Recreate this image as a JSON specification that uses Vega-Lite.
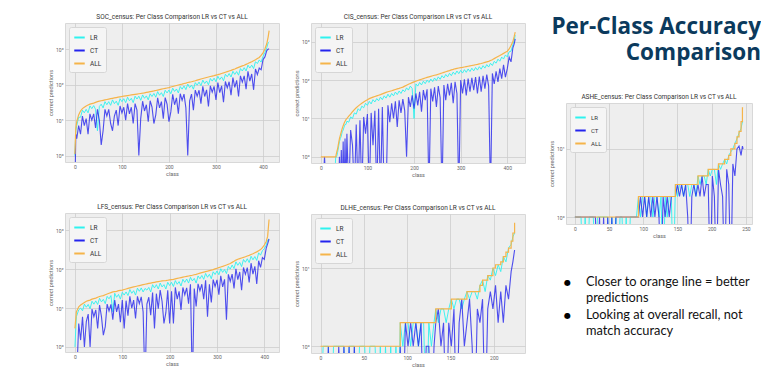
{
"$schema": "https://vega.github.io/schema/vega-lite/v6.json",
"background": "white",
"padding": {"left": 48, "top": 13, "right": 0, "bottom": 0},
"config": {
  "font": "Roboto",
  "view": {"stroke": null},
  "axis": {"labelFontSize": 5, "labelColor": "#666666", "titleFontSize": 5.5, "titleColor": "#666666", "titleFontWeight": "normal", "gridColor": "#cdcdcd", "gridWidth": 0.8, "domain": false, "ticks": false, "labelPadding": 2, "titlePadding": 2, "labelFont": "Roboto", "titleFont": "Roboto"},
  "title": {"fontSize": 6.5, "fontWeight": "normal", "color": "#333333", "offset": 3, "font": "Roboto"},
  "legend": {"symbolType": "stroke", "symbolStrokeWidth": 2, "symbolSize": 110, "labelFontSize": 6.5, "labelColor": "#333333", "labelFont": "Roboto", "fillColor": "#f5f5f5", "strokeColor": "#d6d6d6", "padding": 4, "rowPadding": 2, "cornerRadius": 2, "orient": "top-left", "offset": 4, "title": null}
},
"datasets": {
  "soc": [
    {"x":0,"ALL":1.1,"LR":1,"CT":0.1},{"x":2,"ALL":6,"LR":5,"CT":4},{"x":4,"ALL":9,"LR":7,"CT":3},{"x":8,"ALL":14,"LR":12,"CT":7},{"x":12,"ALL":18,"LR":12,"CT":4},{"x":16,"ALL":21,"LR":19,"CT":13},{"x":20,"ALL":23,"LR":16,"CT":7},{"x":24,"ALL":25,"LR":20,"CT":11},{"x":28,"ALL":26.5,"LR":16,"CT":4},{"x":32,"ALL":28,"LR":25,"CT":15},{"x":36,"ALL":29,"LR":21,"CT":10},{"x":40,"ALL":30,"LR":25.5,"CT":15},{"x":44,"ALL":31.5,"LR":20,"CT":6},{"x":48,"ALL":33,"LR":5,"CT":20},{"x":52,"ALL":34,"LR":24,"CT":10},{"x":56,"ALL":35,"LR":28,"CT":2},{"x":60,"ALL":36,"LR":22,"CT":5},{"x":64,"ALL":37,"LR":33,"CT":20},{"x":68,"ALL":38,"LR":27,"CT":13},{"x":72,"ALL":39,"LR":33,"CT":20},{"x":76,"ALL":40,"LR":26,"CT":8},{"x":80,"ALL":41,"LR":37,"CT":5},{"x":84,"ALL":42,"LR":29,"CT":13},{"x":88,"ALL":43,"LR":34,"CT":19},{"x":92,"ALL":44,"LR":26,"CT":7},{"x":96,"ALL":45,"LR":40,"CT":25},{"x":100,"ALL":46,"LR":33,"CT":16},{"x":104,"ALL":47,"LR":40,"CT":23},{"x":108,"ALL":48,"LR":31,"CT":10},{"x":112,"ALL":49,"LR":44,"CT":29},{"x":116,"ALL":50,"LR":35,"CT":15},{"x":120,"ALL":51,"LR":41,"CT":23},{"x":124,"ALL":52,"LR":31,"CT":8},{"x":128,"ALL":53,"LR":47,"CT":29},{"x":132,"ALL":54,"LR":39,"CT":19},{"x":136,"ALL":55,"LR":47,"CT":1},{"x":140,"ALL":56,"LR":36,"CT":11},{"x":144,"ALL":57,"LR":51,"CT":34},{"x":148,"ALL":58.5,"LR":41,"CT":18},{"x":152,"ALL":60,"LR":48,"CT":27},{"x":156,"ALL":61.5,"LR":37,"CT":9},{"x":160,"ALL":63,"LR":55,"CT":35},{"x":164,"ALL":64.5,"LR":46,"CT":23},{"x":168,"ALL":66,"LR":56,"CT":8},{"x":172,"ALL":68,"LR":44,"CT":14},{"x":176,"ALL":70,"LR":63,"CT":42},{"x":180,"ALL":72,"LR":50,"CT":22},{"x":184,"ALL":74,"LR":59,"CT":33},{"x":188,"ALL":76,"LR":46,"CT":11},{"x":192,"ALL":78,"LR":69,"CT":43},{"x":196,"ALL":80,"LR":58,"CT":28},{"x":200,"ALL":82,"LR":70,"CT":9},{"x":204,"ALL":85,"LR":55,"CT":17},{"x":208,"ALL":88,"LR":79,"CT":53},{"x":212,"ALL":91,"LR":64,"CT":27},{"x":216,"ALL":94,"LR":75,"CT":42},{"x":220,"ALL":97,"LR":58,"CT":15},{"x":224,"ALL":100,"LR":88,"CT":55},{"x":228,"ALL":103,"LR":74,"CT":36},{"x":232,"ALL":107,"LR":91,"CT":54},{"x":236,"ALL":110,"LR":72,"CT":22},{"x":240,"ALL":114,"LR":103,"CT":1},{"x":244,"ALL":117,"LR":82,"CT":35},{"x":248,"ALL":120,"LR":96,"CT":54},{"x":252,"ALL":124,"LR":74,"CT":19},{"x":256,"ALL":128,"LR":113,"CT":70},{"x":260,"ALL":133,"LR":96,"CT":47},{"x":264,"ALL":138,"LR":117,"CT":69},{"x":268,"ALL":143,"LR":93,"CT":29},{"x":272,"ALL":148,"LR":133,"CT":89},{"x":276,"ALL":153,"LR":107,"CT":46},{"x":280,"ALL":158,"LR":126,"CT":71},{"x":284,"ALL":163,"LR":98,"CT":24},{"x":288,"ALL":168,"LR":148,"CT":92},{"x":292,"ALL":173,"LR":125,"CT":61},{"x":296,"ALL":178,"LR":151,"CT":89},{"x":300,"ALL":184,"LR":120,"CT":37},{"x":304,"ALL":190,"LR":171,"CT":114},{"x":308,"ALL":197,"LR":138,"CT":59},{"x":312,"ALL":205,"LR":164,"CT":92},{"x":316,"ALL":213,"LR":128,"CT":32},{"x":320,"ALL":222,"LR":195,"CT":122},{"x":324,"ALL":231,"LR":166,"CT":81},{"x":328,"ALL":240,"LR":204,"CT":120},{"x":332,"ALL":250,"LR":163,"CT":50},{"x":336,"ALL":262,"LR":236,"CT":157},{"x":340,"ALL":275,"LR":193,"CT":83},{"x":344,"ALL":290,"LR":232,"CT":131},{"x":348,"ALL":305,"LR":183,"CT":46},{"x":352,"ALL":320,"LR":282,"CT":176},{"x":356,"ALL":335,"LR":241,"CT":117},{"x":360,"ALL":350,"LR":298,"CT":175},{"x":364,"ALL":370,"LR":241,"CT":74},{"x":368,"ALL":390,"LR":351,"CT":234},{"x":372,"ALL":415,"LR":291,"CT":125},{"x":376,"ALL":440,"LR":352,"CT":198},{"x":380,"ALL":470,"LR":282,"CT":71},{"x":384,"ALL":500,"LR":440,"CT":275},{"x":388,"ALL":540,"LR":389,"CT":189},{"x":392,"ALL":580,"LR":493,"CT":290},{"x":396,"ALL":660,"LR":429,"CT":260},{"x":400,"ALL":780,"LR":620,"CT":500},{"x":404,"ALL":1000,"LR":800,"CT":600},{"x":408,"ALL":1400,"LR":1100,"CT":900},{"x":411,"ALL":2200,"LR":1500,"CT":1000},{"x":413,"ALL":3300,"LR":1600,"CT":1000}
  ],
  "cis": [
    {"x":0,"ALL":1,"LR":0.1,"CT":0.1},{"x":4,"ALL":1,"LR":0.1,"CT":0.1},{"x":8,"ALL":1,"LR":0.1,"CT":1},{"x":12,"ALL":1,"LR":0.1,"CT":0.1},{"x":16,"ALL":1,"LR":0.1,"CT":0.1},{"x":20,"ALL":1,"LR":0.1,"CT":0.1},{"x":24,"ALL":1,"LR":0.1,"CT":0.1},{"x":28,"ALL":1,"LR":0.1,"CT":0.1},{"x":32,"ALL":1,"LR":1,"CT":0.1},{"x":34,"ALL":1.3,"LR":1,"CT":0.1},{"x":36,"ALL":1.6,"LR":1.3,"CT":0.1},{"x":38,"ALL":2.2,"LR":1.8,"CT":0.1},{"x":40,"ALL":3,"LR":2.5,"CT":1},{"x":42,"ALL":3.7,"LR":3,"CT":0.1},{"x":44,"ALL":4.5,"LR":3.5,"CT":1.5},{"x":46,"ALL":5.5,"LR":4.5,"CT":0.1},{"x":48,"ALL":6.5,"LR":5,"CT":2.5},{"x":50,"ALL":7.5,"LR":6,"CT":0.1},{"x":52,"ALL":8.5,"LR":7,"CT":3},{"x":54,"ALL":9.3,"LR":7,"CT":0.1},{"x":56,"ALL":10,"LR":8.5,"CT":4},{"x":60,"ALL":11.5,"LR":8,"CT":0.1},{"x":64,"ALL":13,"LR":11,"CT":5},{"x":68,"ALL":15,"LR":10,"CT":2},{"x":72,"ALL":17,"LR":14,"CT":0.1},{"x":76,"ALL":19,"LR":13,"CT":7},{"x":80,"ALL":21,"LR":18,"CT":0.1},{"x":84,"ALL":23,"LR":16,"CT":9},{"x":88,"ALL":25,"LR":21,"CT":0.1},{"x":92,"ALL":27,"LR":19,"CT":11},{"x":96,"ALL":29,"LR":25,"CT":4},{"x":100,"ALL":31,"LR":22,"CT":13},{"x":104,"ALL":33,"LR":28,"CT":0.1},{"x":108,"ALL":34.5,"LR":24,"CT":14},{"x":112,"ALL":36,"LR":31,"CT":2},{"x":116,"ALL":37.5,"LR":27,"CT":16},{"x":120,"ALL":39,"LR":33,"CT":0.1},{"x":124,"ALL":40.5,"LR":29,"CT":18},{"x":128,"ALL":42,"LR":36,"CT":0.1},{"x":132,"ALL":44,"LR":31,"CT":20},{"x":136,"ALL":46,"LR":39,"CT":0.1},{"x":140,"ALL":48,"LR":34,"CT":0.1},{"x":144,"ALL":50,"LR":43,"CT":22},{"x":148,"ALL":51.5,"LR":36,"CT":8},{"x":152,"ALL":53,"LR":45,"CT":25},{"x":156,"ALL":55,"LR":39,"CT":10},{"x":160,"ALL":57,"LR":49,"CT":28},{"x":164,"ALL":59,"LR":42,"CT":6},{"x":168,"ALL":61,"LR":52,"CT":30},{"x":172,"ALL":63.5,"LR":45,"CT":14},{"x":176,"ALL":66,"LR":56,"CT":32},{"x":180,"ALL":70,"LR":50,"CT":16},{"x":184,"ALL":74,"LR":63,"CT":1},{"x":188,"ALL":78,"LR":55,"CT":36},{"x":192,"ALL":82,"LR":70,"CT":20},{"x":196,"ALL":86,"LR":61,"CT":40},{"x":200,"ALL":90,"LR":10,"CT":18},{"x":204,"ALL":94,"LR":80,"CT":45},{"x":208,"ALL":98,"LR":70,"CT":22},{"x":212,"ALL":102,"LR":87,"CT":50},{"x":216,"ALL":106,"LR":75,"CT":15},{"x":220,"ALL":110,"LR":94,"CT":55},{"x":224,"ALL":114,"LR":81,"CT":30},{"x":228,"ALL":118,"LR":100,"CT":58},{"x":232,"ALL":122,"LR":87,"CT":0.1},{"x":236,"ALL":126,"LR":107,"CT":60},{"x":240,"ALL":130,"LR":92,"CT":28},{"x":244,"ALL":134,"LR":114,"CT":65},{"x":248,"ALL":138,"LR":98,"CT":20},{"x":252,"ALL":143,"LR":122,"CT":70},{"x":256,"ALL":148,"LR":105,"CT":35},{"x":260,"ALL":154,"LR":131,"CT":0.1},{"x":264,"ALL":160,"LR":114,"CT":75},{"x":268,"ALL":166,"LR":141,"CT":30},{"x":272,"ALL":172,"LR":122,"CT":80},{"x":276,"ALL":178,"LR":151,"CT":40},{"x":280,"ALL":185,"LR":131,"CT":85},{"x":284,"ALL":191,"LR":162,"CT":25},{"x":288,"ALL":198,"LR":141,"CT":90},{"x":292,"ALL":203,"LR":173,"CT":45},{"x":296,"ALL":208,"LR":148,"CT":0.1},{"x":300,"ALL":212,"LR":180,"CT":100},{"x":304,"ALL":216,"LR":153,"CT":45},{"x":308,"ALL":221,"LR":188,"CT":105},{"x":312,"ALL":226,"LR":160,"CT":40},{"x":316,"ALL":231,"LR":196,"CT":110},{"x":320,"ALL":236,"LR":168,"CT":50},{"x":324,"ALL":241,"LR":205,"CT":115},{"x":328,"ALL":246,"LR":175,"CT":55},{"x":332,"ALL":252,"LR":214,"CT":120},{"x":336,"ALL":258,"LR":183,"CT":45},{"x":340,"ALL":265,"LR":225,"CT":125},{"x":344,"ALL":272,"LR":193,"CT":50},{"x":348,"ALL":281,"LR":239,"CT":130},{"x":352,"ALL":290,"LR":206,"CT":60},{"x":356,"ALL":300,"LR":255,"CT":140},{"x":360,"ALL":310,"LR":220,"CT":70},{"x":364,"ALL":325,"LR":276,"CT":0.1},{"x":368,"ALL":340,"LR":241,"CT":150},{"x":372,"ALL":365,"LR":310,"CT":80},{"x":376,"ALL":390,"LR":277,"CT":170},{"x":380,"ALL":415,"LR":353,"CT":90},{"x":384,"ALL":440,"LR":312,"CT":200},{"x":388,"ALL":470,"LR":400,"CT":110},{"x":392,"ALL":500,"LR":355,"CT":250},{"x":396,"ALL":535,"LR":455,"CT":120},{"x":400,"ALL":570,"LR":405,"CT":200},{"x":404,"ALL":650,"LR":550,"CT":400},{"x":408,"ALL":800,"LR":570,"CT":300},{"x":412,"ALL":1000,"LR":850,"CT":700},{"x":415,"ALL":1400,"LR":1100,"CT":900},{"x":417,"ALL":1800,"LR":1500,"CT":1200}
  ],
  "lfs": [
    {"x":0,"ALL":3,"LR":1,"CT":0.1},{"x":3,"ALL":8,"LR":6,"CT":0.1},{"x":8,"ALL":10.8,"LR":9,"CT":4},{"x":12,"ALL":12,"LR":10,"CT":1.5},{"x":16,"ALL":13,"LR":8.5,"CT":6},{"x":20,"ALL":14,"LR":12.6,"CT":1},{"x":24,"ALL":15,"LR":10.5,"CT":4.5},{"x":28,"ALL":15.5,"LR":12.4,"CT":7},{"x":32,"ALL":16,"LR":9.6,"CT":1},{"x":36,"ALL":17,"LR":15,"CT":9.4},{"x":40,"ALL":17.5,"LR":12.6,"CT":6},{"x":44,"ALL":18,"LR":15.3,"CT":9},{"x":48,"ALL":19,"LR":12.4,"CT":3},{"x":52,"ALL":19.8,"LR":17.8,"CT":12},{"x":56,"ALL":20.5,"LR":14.4,"CT":6},{"x":60,"ALL":21,"LR":16.8,"CT":2},{"x":64,"ALL":22,"LR":13,"CT":3.3},{"x":68,"ALL":23,"LR":20,"CT":12.7},{"x":72,"ALL":24,"LR":17.3,"CT":8.4},{"x":76,"ALL":25,"LR":21,"CT":12.5},{"x":80,"ALL":26,"LR":8,"CT":5},{"x":84,"ALL":26.5,"LR":24,"CT":16},{"x":88,"ALL":27,"LR":19,"CT":8},{"x":92,"ALL":28,"LR":22.4,"CT":12.6},{"x":96,"ALL":28.5,"LR":17,"CT":4.3},{"x":100,"ALL":29,"LR":25.5,"CT":16},{"x":104,"ALL":30,"LR":21.6,"CT":3},{"x":108,"ALL":31,"LR":26,"CT":15.5},{"x":112,"ALL":32,"LR":21,"CT":6.4},{"x":116,"ALL":33,"LR":30,"CT":20},{"x":120,"ALL":34,"LR":24,"CT":10},{"x":124,"ALL":35,"LR":28,"CT":16},{"x":128,"ALL":36,"LR":21.6,"CT":5.4},{"x":132,"ALL":37,"LR":32.6,"CT":20},{"x":136,"ALL":38,"LR":27,"CT":13},{"x":140,"ALL":39,"LR":33,"CT":19.5},{"x":144,"ALL":40,"LR":26,"CT":8},{"x":148,"ALL":41,"LR":32,"CT":0.1},{"x":152,"ALL":42,"LR":29,"CT":12.6},{"x":156,"ALL":43,"LR":34,"CT":19},{"x":160,"ALL":44,"LR":26,"CT":6.6},{"x":164,"ALL":45,"LR":40,"CT":25},{"x":168,"ALL":46,"LR":33,"CT":3},{"x":172,"ALL":47,"LR":40,"CT":23.5},{"x":176,"ALL":48,"LR":31,"CT":9.6},{"x":180,"ALL":49,"LR":44,"CT":29},{"x":184,"ALL":50,"LR":35,"CT":15},{"x":188,"ALL":50.5,"LR":40,"CT":4},{"x":192,"ALL":51,"LR":31,"CT":7.6},{"x":196,"ALL":52,"LR":46,"CT":28.6},{"x":200,"ALL":53,"LR":38,"CT":4},{"x":204,"ALL":54,"LR":46,"CT":27},{"x":208,"ALL":55,"LR":36,"CT":4},{"x":212,"ALL":56.5,"LR":51,"CT":34},{"x":216,"ALL":58,"LR":41,"CT":17},{"x":220,"ALL":59.5,"LR":48,"CT":27},{"x":224,"ALL":61,"LR":37,"CT":9},{"x":228,"ALL":62.5,"LR":55,"CT":34},{"x":232,"ALL":64,"LR":46,"CT":22},{"x":236,"ALL":65.5,"LR":56,"CT":33},{"x":240,"ALL":67,"LR":44,"CT":13},{"x":244,"ALL":68.5,"LR":62,"CT":41},{"x":248,"ALL":70,"LR":50,"CT":0.1},{"x":252,"ALL":72,"LR":58,"CT":32},{"x":256,"ALL":74,"LR":44,"CT":11},{"x":260,"ALL":76.5,"LR":67,"CT":42},{"x":264,"ALL":79,"LR":57,"CT":28},{"x":268,"ALL":81.5,"LR":69,"CT":41},{"x":272,"ALL":84,"LR":55,"CT":17},{"x":276,"ALL":86.5,"LR":78,"CT":52},{"x":280,"ALL":89,"LR":62,"CT":6},{"x":284,"ALL":92,"LR":74,"CT":41},{"x":288,"ALL":95,"LR":57,"CT":14},{"x":292,"ALL":98,"LR":86,"CT":54},{"x":296,"ALL":102,"LR":73,"CT":36},{"x":300,"ALL":106,"LR":90,"CT":53},{"x":304,"ALL":110,"LR":72,"CT":22},{"x":308,"ALL":114,"LR":103,"CT":68},{"x":312,"ALL":118,"LR":83,"CT":35},{"x":316,"ALL":123,"LR":98,"CT":55},{"x":320,"ALL":128,"LR":77,"CT":5},{"x":324,"ALL":134,"LR":118,"CT":74},{"x":328,"ALL":140,"LR":101,"CT":49},{"x":332,"ALL":150,"LR":128,"CT":75},{"x":336,"ALL":160,"LR":104,"CT":32},{"x":340,"ALL":172,"LR":155,"CT":103},{"x":344,"ALL":180,"LR":126,"CT":54},{"x":348,"ALL":188,"LR":150,"CT":85},{"x":352,"ALL":195,"LR":117,"CT":29},{"x":356,"ALL":202,"LR":178,"CT":111},{"x":360,"ALL":210,"LR":151,"CT":74},{"x":364,"ALL":219,"LR":186,"CT":110},{"x":368,"ALL":228,"LR":148,"CT":46},{"x":372,"ALL":239,"LR":215,"CT":143},{"x":376,"ALL":250,"LR":175,"CT":75},{"x":380,"ALL":265,"LR":212,"CT":119},{"x":384,"ALL":280,"LR":168,"CT":42},{"x":388,"ALL":300,"LR":264,"CT":165},{"x":392,"ALL":320,"LR":230,"CT":112},{"x":396,"ALL":360,"LR":300,"CT":200},{"x":400,"ALL":420,"LR":336,"CT":180},{"x":404,"ALL":520,"LR":416,"CT":350},{"x":407,"ALL":700,"LR":560,"CT":450},{"x":410,"ALL":1900,"LR":600,"CT":600}
  ],
  "ashe": [
    {"x":0,"ALL":1,"LR":1,"CT":1},{"x":3,"ALL":1,"LR":1,"CT":1},{"x":6,"ALL":1,"LR":1,"CT":1},{"x":9,"ALL":1,"LR":1,"CT":1},{"x":12,"ALL":1,"LR":0.1,"CT":1},{"x":15,"ALL":1,"LR":1,"CT":1},{"x":18,"ALL":1,"LR":0.1,"CT":1},{"x":21,"ALL":1,"LR":1,"CT":1},{"x":24,"ALL":1,"LR":1,"CT":1},{"x":27,"ALL":1,"LR":1,"CT":1},{"x":30,"ALL":1,"LR":0.1,"CT":1},{"x":33,"ALL":1,"LR":1,"CT":0.1},{"x":36,"ALL":1,"LR":1,"CT":1},{"x":39,"ALL":1,"LR":1,"CT":0.1},{"x":42,"ALL":1,"LR":1,"CT":1},{"x":45,"ALL":1,"LR":1,"CT":0.1},{"x":48,"ALL":1,"LR":1,"CT":1},{"x":51,"ALL":1,"LR":0.1,"CT":0.1},{"x":54,"ALL":1,"LR":1,"CT":1},{"x":57,"ALL":1,"LR":0.1,"CT":0.1},{"x":60,"ALL":1,"LR":1,"CT":1},{"x":63,"ALL":1,"LR":0.1,"CT":1},{"x":66,"ALL":1,"LR":1,"CT":1},{"x":69,"ALL":1,"LR":1,"CT":1},{"x":72,"ALL":1,"LR":0.1,"CT":1},{"x":75,"ALL":1,"LR":1,"CT":1},{"x":78,"ALL":1,"LR":0.1,"CT":1},{"x":81,"ALL":1,"LR":1,"CT":1},{"x":84,"ALL":1,"LR":1,"CT":1},{"x":87,"ALL":1,"LR":1,"CT":1},{"x":90,"ALL":1,"LR":1,"CT":1},{"x":93,"ALL":2,"LR":2,"CT":1},{"x":96,"ALL":2,"LR":1,"CT":2},{"x":99,"ALL":2,"LR":2,"CT":1},{"x":102,"ALL":2,"LR":2,"CT":2},{"x":105,"ALL":2,"LR":1,"CT":1},{"x":108,"ALL":2,"LR":2,"CT":2},{"x":111,"ALL":2,"LR":2,"CT":1},{"x":114,"ALL":2,"LR":1,"CT":2},{"x":117,"ALL":2,"LR":2,"CT":1},{"x":120,"ALL":2,"LR":2,"CT":2},{"x":123,"ALL":2,"LR":1,"CT":1},{"x":126,"ALL":2,"LR":2,"CT":0.1},{"x":129,"ALL":2,"LR":0.1,"CT":2},{"x":132,"ALL":2,"LR":2,"CT":1},{"x":135,"ALL":2,"LR":1,"CT":2},{"x":138,"ALL":2,"LR":2,"CT":1},{"x":141,"ALL":2,"LR":2,"CT":2},{"x":144,"ALL":2,"LR":0.1,"CT":2},{"x":147,"ALL":3,"LR":3,"CT":2},{"x":150,"ALL":3,"LR":2,"CT":3},{"x":153,"ALL":3,"LR":3,"CT":2},{"x":156,"ALL":3,"LR":3,"CT":3},{"x":159,"ALL":3,"LR":2,"CT":2},{"x":162,"ALL":3,"LR":3,"CT":3},{"x":165,"ALL":3,"LR":3,"CT":1},{"x":168,"ALL":3,"LR":2,"CT":0.1},{"x":171,"ALL":3,"LR":3,"CT":2},{"x":174,"ALL":3,"LR":3,"CT":3},{"x":177,"ALL":3,"LR":2,"CT":2},{"x":180,"ALL":4,"LR":4,"CT":3},{"x":183,"ALL":4,"LR":3,"CT":2},{"x":186,"ALL":4,"LR":4,"CT":4},{"x":189,"ALL":4,"LR":4,"CT":2},{"x":192,"ALL":4,"LR":3,"CT":3},{"x":195,"ALL":5,"LR":5,"CT":3},{"x":198,"ALL":5,"LR":4,"CT":0.1},{"x":201,"ALL":5,"LR":5,"CT":4},{"x":204,"ALL":5,"LR":5,"CT":2},{"x":207,"ALL":5,"LR":3,"CT":0.1},{"x":210,"ALL":6,"LR":6,"CT":5},{"x":213,"ALL":6,"LR":5,"CT":3},{"x":216,"ALL":6,"LR":6,"CT":2},{"x":219,"ALL":7,"LR":7,"CT":0.1},{"x":222,"ALL":7,"LR":6,"CT":5},{"x":225,"ALL":8,"LR":8,"CT":3},{"x":228,"ALL":10,"LR":9,"CT":0.1},{"x":231,"ALL":10,"LR":10,"CT":6},{"x":234,"ALL":12,"LR":12,"CT":4},{"x":237,"ALL":15,"LR":14,"CT":10},{"x":240,"ALL":18,"LR":17,"CT":11},{"x":243,"ALL":25,"LR":20,"CT":8},{"x":245,"ALL":40,"LR":25,"CT":11},{"x":246,"ALL":40,"LR":25,"CT":10}
  ],
  "dlhe": [
    {"x":0,"ALL":1,"LR":0.1,"CT":0.1},{"x":3,"ALL":1,"LR":1,"CT":0.1},{"x":6,"ALL":1,"LR":1,"CT":0.1},{"x":9,"ALL":1,"LR":1,"CT":1},{"x":12,"ALL":1,"LR":0.1,"CT":0.1},{"x":15,"ALL":1,"LR":1,"CT":0.1},{"x":18,"ALL":1,"LR":1,"CT":0.1},{"x":21,"ALL":1,"LR":1,"CT":1},{"x":24,"ALL":1,"LR":1,"CT":0.1},{"x":27,"ALL":1,"LR":1,"CT":1},{"x":30,"ALL":1,"LR":0.1,"CT":0.1},{"x":33,"ALL":1,"LR":1,"CT":1},{"x":36,"ALL":1,"LR":1,"CT":0.1},{"x":39,"ALL":1,"LR":1,"CT":1},{"x":42,"ALL":1,"LR":0.1,"CT":0.1},{"x":45,"ALL":1,"LR":1,"CT":0.1},{"x":48,"ALL":1,"LR":1,"CT":0.1},{"x":51,"ALL":1,"LR":1,"CT":0.1},{"x":54,"ALL":1,"LR":0.1,"CT":0.1},{"x":57,"ALL":1,"LR":1,"CT":0.1},{"x":60,"ALL":1,"LR":1,"CT":0.1},{"x":63,"ALL":1,"LR":1,"CT":0.1},{"x":66,"ALL":1,"LR":0.1,"CT":0.1},{"x":69,"ALL":1,"LR":1,"CT":0.1},{"x":72,"ALL":1,"LR":0.1,"CT":0.1},{"x":75,"ALL":1,"LR":1,"CT":0.1},{"x":78,"ALL":1,"LR":0.1,"CT":0.1},{"x":81,"ALL":1,"LR":1,"CT":0.1},{"x":84,"ALL":1,"LR":0.1,"CT":0.1},{"x":87,"ALL":1,"LR":1,"CT":0.1},{"x":90,"ALL":1,"LR":0.1,"CT":0.1},{"x":92,"ALL":2,"LR":2,"CT":1},{"x":95,"ALL":2,"LR":1,"CT":0.1},{"x":98,"ALL":2,"LR":2,"CT":2},{"x":101,"ALL":2,"LR":2,"CT":1},{"x":104,"ALL":2,"LR":1,"CT":2},{"x":107,"ALL":2,"LR":2,"CT":1},{"x":110,"ALL":2,"LR":2,"CT":2},{"x":113,"ALL":2,"LR":1,"CT":1},{"x":116,"ALL":2,"LR":2,"CT":2},{"x":119,"ALL":2,"LR":2,"CT":0.1},{"x":122,"ALL":2,"LR":0.1,"CT":1},{"x":125,"ALL":2,"LR":2,"CT":1},{"x":128,"ALL":2,"LR":1,"CT":0.1},{"x":131,"ALL":2,"LR":2,"CT":1},{"x":133,"ALL":3,"LR":3,"CT":2},{"x":136,"ALL":3,"LR":2,"CT":3},{"x":139,"ALL":3,"LR":3,"CT":1},{"x":142,"ALL":3,"LR":3,"CT":2},{"x":145,"ALL":3,"LR":2,"CT":0.1},{"x":148,"ALL":3,"LR":3,"CT":2},{"x":151,"ALL":4,"LR":4,"CT":1},{"x":154,"ALL":4,"LR":3,"CT":3},{"x":157,"ALL":4,"LR":4,"CT":0.1},{"x":160,"ALL":4,"LR":4,"CT":2},{"x":163,"ALL":4,"LR":3,"CT":4},{"x":166,"ALL":4,"LR":4,"CT":1},{"x":169,"ALL":5,"LR":5,"CT":2},{"x":172,"ALL":5,"LR":4,"CT":4},{"x":175,"ALL":5,"LR":5,"CT":1},{"x":178,"ALL":5,"LR":5,"CT":0.1},{"x":181,"ALL":5,"LR":4,"CT":3},{"x":184,"ALL":6,"LR":6,"CT":2},{"x":187,"ALL":7,"LR":7,"CT":4},{"x":190,"ALL":7,"LR":5,"CT":0.1},{"x":193,"ALL":8,"LR":8,"CT":3},{"x":196,"ALL":8,"LR":7,"CT":5},{"x":199,"ALL":10,"LR":10,"CT":3},{"x":202,"ALL":11,"LR":8,"CT":6},{"x":205,"ALL":11,"LR":11,"CT":2},{"x":208,"ALL":12,"LR":9,"CT":5},{"x":211,"ALL":14,"LR":14,"CT":2},{"x":214,"ALL":16,"LR":12,"CT":6},{"x":217,"ALL":18,"LR":18,"CT":4},{"x":220,"ALL":22,"LR":20,"CT":9},{"x":222,"ALL":28,"LR":25,"CT":12},{"x":224,"ALL":38,"LR":28,"CT":17}
  ],
  "title": [
    {"line": 1, "col": 1, "t": "Per-Class Accuracy\nComparison"}
  ],
  "bullets": [
    {"line": 1, "col": 0, "t": "●"},
    {"line": 1, "col": 1, "t": "Closer to orange line = better"},
    {"line": 2, "col": 1, "t": "predictions"},
    {"line": 3, "col": 0, "t": "●"},
    {"line": 3, "col": 1, "t": "Looking at overall recall, not"},
    {"line": 4, "col": 1, "t": "match accuracy"}
  ]
},
"spacing": 23,
"resolve": {"scale": {"color": "independent"}, "legend": {"color": "independent"}},
"hconcat": [
  {
    "spacing": 14,
    "resolve": {"scale": {"color": "independent"}, "legend": {"color": "independent"}},
    "hconcat": [
      {
        "spacing": 26,
        "resolve": {"scale": {"color": "independent"}, "legend": {"color": "independent"}},
        "vconcat": [
          {
            "width": 214, "height": 139,
            "view": {"fill": "#eeeeee", "stroke": "#d8d8d8"},
            "title": "SOC_census: Per Class Comparison LR vs CT vs ALL",
            "data": {"name": "soc"},
            "transform": [{"fold": ["LR", "CT", "ALL"], "as": ["series", "value"]}],
            "encoding": {
              "x": {"field": "x", "type": "quantitative", "scale": {"domain": [-21, 434], "nice": false, "zero": false}, "axis": {"values": [0, 100, 200, 300, 400], "title": "class"}},
              "y": {"field": "value", "type": "quantitative", "scale": {"type": "log", "domain": [0.66, 5400], "nice": false}, "axis": {"values": [1, 10, 100, 1000], "labelExpr": "datum.value == 1 ? '10⁰' : datum.value == 10 ? '10¹' : datum.value == 100 ? '10²' : '10³'", "title": "correct predictions"}},
              "color": {"field": "series", "type": "nominal", "scale": {"domain": ["LR", "CT", "ALL"], "range": ["#2ef2ee", "#2424ee", "#f5b44a"]}, "legend": {"orient": "top-left"}}
            },
            "layer": [
              {"transform": [{"filter": "datum.series == 'LR'"}], "mark": {"type": "line", "clip": true, "strokeWidth": 1, "strokeOpacity": 0.9}},
              {"transform": [{"filter": "datum.series == 'CT'"}], "mark": {"type": "line", "clip": true, "strokeWidth": 1.1, "strokeOpacity": 0.8}},
              {"transform": [{"filter": "datum.series == 'ALL'"}], "mark": {"type": "line", "clip": true, "strokeWidth": 1.2}}
            ]
          },
          {
            "width": 214, "height": 139,
            "view": {"fill": "#eeeeee", "stroke": "#d8d8d8"},
            "title": "LFS_census: Per Class Comparison LR vs CT vs ALL",
            "data": {"name": "lfs"},
            "transform": [{"fold": ["LR", "CT", "ALL"], "as": ["series", "value"]}],
            "encoding": {
              "x": {"field": "x", "type": "quantitative", "scale": {"domain": [-21, 431], "nice": false, "zero": false}, "axis": {"values": [0, 100, 200, 300, 400], "title": "class"}},
              "y": {"field": "value", "type": "quantitative", "scale": {"type": "log", "domain": [0.74, 2800], "nice": false}, "axis": {"values": [1, 10, 100, 1000], "labelExpr": "datum.value == 1 ? '10⁰' : datum.value == 10 ? '10¹' : datum.value == 100 ? '10²' : '10³'", "title": "correct predictions"}},
              "color": {"field": "series", "type": "nominal", "scale": {"domain": ["LR", "CT", "ALL"], "range": ["#2ef2ee", "#2424ee", "#f5b44a"]}, "legend": {"orient": "top-left"}}
            },
            "layer": [
              {"transform": [{"filter": "datum.series == 'LR'"}], "mark": {"type": "line", "clip": true, "strokeWidth": 1, "strokeOpacity": 0.9}},
              {"transform": [{"filter": "datum.series == 'CT'"}], "mark": {"type": "line", "clip": true, "strokeWidth": 1.1, "strokeOpacity": 0.8}},
              {"transform": [{"filter": "datum.series == 'ALL'"}], "mark": {"type": "line", "clip": true, "strokeWidth": 1.2}}
            ]
          }
        ]
      },
      {
        "spacing": 26,
        "resolve": {"scale": {"color": "independent"}, "legend": {"color": "independent"}},
        "vconcat": [
          {
            "width": 214, "height": 140,
            "view": {"fill": "#eeeeee", "stroke": "#d8d8d8"},
            "title": "CIS_census: Per Class Comparison LR vs CT vs ALL",
            "data": {"name": "cis"},
            "transform": [{"fold": ["LR", "CT", "ALL"], "as": ["series", "value"]}],
            "encoding": {
              "x": {"field": "x", "type": "quantitative", "scale": {"domain": [-21, 438], "nice": false, "zero": false}, "axis": {"values": [0, 100, 200, 300, 400], "title": "class"}},
              "y": {"field": "value", "type": "quantitative", "scale": {"type": "log", "domain": [0.69, 3100], "nice": false}, "axis": {"values": [1, 10, 100, 1000], "labelExpr": "datum.value == 1 ? '10⁰' : datum.value == 10 ? '10¹' : datum.value == 100 ? '10²' : '10³'", "title": "correct predictions"}},
              "color": {"field": "series", "type": "nominal", "scale": {"domain": ["LR", "CT", "ALL"], "range": ["#2ef2ee", "#2424ee", "#f5b44a"]}, "legend": {"orient": "top-left"}}
            },
            "layer": [
              {"transform": [{"filter": "datum.series == 'LR'"}], "mark": {"type": "line", "clip": true, "strokeWidth": 1, "strokeOpacity": 0.9}},
              {"transform": [{"filter": "datum.series == 'CT'"}], "mark": {"type": "line", "clip": true, "strokeWidth": 1.1, "strokeOpacity": 0.8}},
              {"transform": [{"filter": "datum.series == 'ALL'"}], "mark": {"type": "line", "clip": true, "strokeWidth": 1.2}}
            ]
          },
          {
            "width": 214, "height": 139,
            "view": {"fill": "#eeeeee", "stroke": "#d8d8d8"},
            "title": "DLHE_census: Per Class Comparison LR vs CT vs ALL",
            "data": {"name": "dlhe"},
            "transform": [{"fold": ["LR", "CT", "ALL"], "as": ["series", "value"]}],
            "encoding": {
              "x": {"field": "x", "type": "quantitative", "scale": {"domain": [-11, 236], "nice": false, "zero": false}, "axis": {"values": [0, 50, 100, 150, 200], "title": "class"}},
              "y": {"field": "value", "type": "quantitative", "scale": {"type": "log", "domain": [0.82, 49], "nice": false}, "axis": {"values": [1, 10], "labelExpr": "datum.value == 1 ? '10⁰' : '10¹'", "title": "correct predictions"}},
              "color": {"field": "series", "type": "nominal", "scale": {"domain": ["LR", "CT", "ALL"], "range": ["#2ef2ee", "#2424ee", "#f5b44a"]}, "legend": {"orient": "top-left"}}
            },
            "layer": [
              {"transform": [{"filter": "datum.series == 'LR'"}], "mark": {"type": "line", "clip": true, "strokeWidth": 1, "strokeOpacity": 0.9}},
              {"transform": [{"filter": "datum.series == 'CT'"}], "mark": {"type": "line", "clip": true, "strokeWidth": 1.1, "strokeOpacity": 0.8}},
              {"transform": [{"filter": "datum.series == 'ALL'"}], "mark": {"type": "line", "clip": true, "strokeWidth": 1.2, "interpolate": "step-after"}}
            ]
          }
        ]
      }
    ]
  },
  {
    "spacing": 10,
    "resolve": {"scale": {"color": "independent"}, "legend": {"color": "independent"}},
    "vconcat": [
      {
        "width": 186, "height": 60,
        "data": {"name": "title"},
        "mark": {"type": "text", "align": "right", "baseline": "alphabetic", "font": "Open Sans", "fontWeight": "bold", "fontSize": 22.5, "lineBreak": "\n", "lineHeight": 26, "color": "#0b3a5d"},
        "encoding": {
          "x": {"field": "col", "type": "quantitative", "scale": {"domain": [0, 0.954]}, "axis": null},
          "y": {"field": "line", "type": "quantitative", "scale": {"domain": [0.611, 2.833], "reverse": true}, "axis": null},
          "text": {"field": "t"}
        }
      },
      {
        "width": 186, "height": 121,
        "view": {"fill": "#eeeeee", "stroke": "#d8d8d8"},
        "title": "ASHE_census: Per Class Comparison LR vs CT vs ALL",
        "data": {"name": "ashe"},
        "transform": [{"fold": ["LR", "CT", "ALL"], "as": ["series", "value"]}],
        "encoding": {
          "x": {"field": "x", "type": "quantitative", "scale": {"domain": [-13, 259], "nice": false, "zero": false}, "axis": {"values": [0, 50, 100, 150, 200, 250], "title": "class"}},
          "y": {"field": "value", "type": "quantitative", "scale": {"type": "log", "domain": [0.79, 47], "nice": false}, "axis": {"values": [1, 10], "labelExpr": "datum.value == 1 ? '10⁰' : '10¹'", "title": "correct predictions"}},
          "color": {"field": "series", "type": "nominal", "scale": {"domain": ["LR", "CT", "ALL"], "range": ["#2ef2ee", "#2424ee", "#f5b44a"]}, "legend": {"orient": "top-left", "labelFontSize": 6}}
        },
        "layer": [
          {"transform": [{"filter": "datum.series == 'LR'"}], "mark": {"type": "line", "clip": true, "strokeWidth": 1, "strokeOpacity": 0.9}},
          {"transform": [{"filter": "datum.series == 'CT'"}], "mark": {"type": "line", "clip": true, "strokeWidth": 1.1, "strokeOpacity": 0.8}},
          {"transform": [{"filter": "datum.series == 'ALL'"}], "mark": {"type": "line", "clip": true, "strokeWidth": 1.2, "interpolate": "step-after"}}
        ]
      },
      {
        "width": 186, "height": 100,
        "data": {"name": "bullets"},
        "encoding": {
          "x": {"field": "col", "type": "quantitative", "scale": {"domain": [-0.08, 9.97]}, "axis": null},
          "y": {"field": "line", "type": "quantitative", "scale": {"domain": [-1.24, 4.82], "reverse": true}, "axis": null},
          "text": {"field": "t"}
        },
        "layer": [
          {"transform": [{"filter": "datum.col == 0"}], "mark": {"type": "text", "align": "center", "baseline": "alphabetic", "font": "DejaVu Sans", "fontSize": 8, "color": "#000000", "dy": -1}},
          {"transform": [{"filter": "datum.col == 1"}], "mark": {"type": "text", "align": "left", "baseline": "alphabetic", "font": "Lato", "fontSize": 12.8, "color": "#111111"}}
        ]
      }
    ]
  }
]
}
